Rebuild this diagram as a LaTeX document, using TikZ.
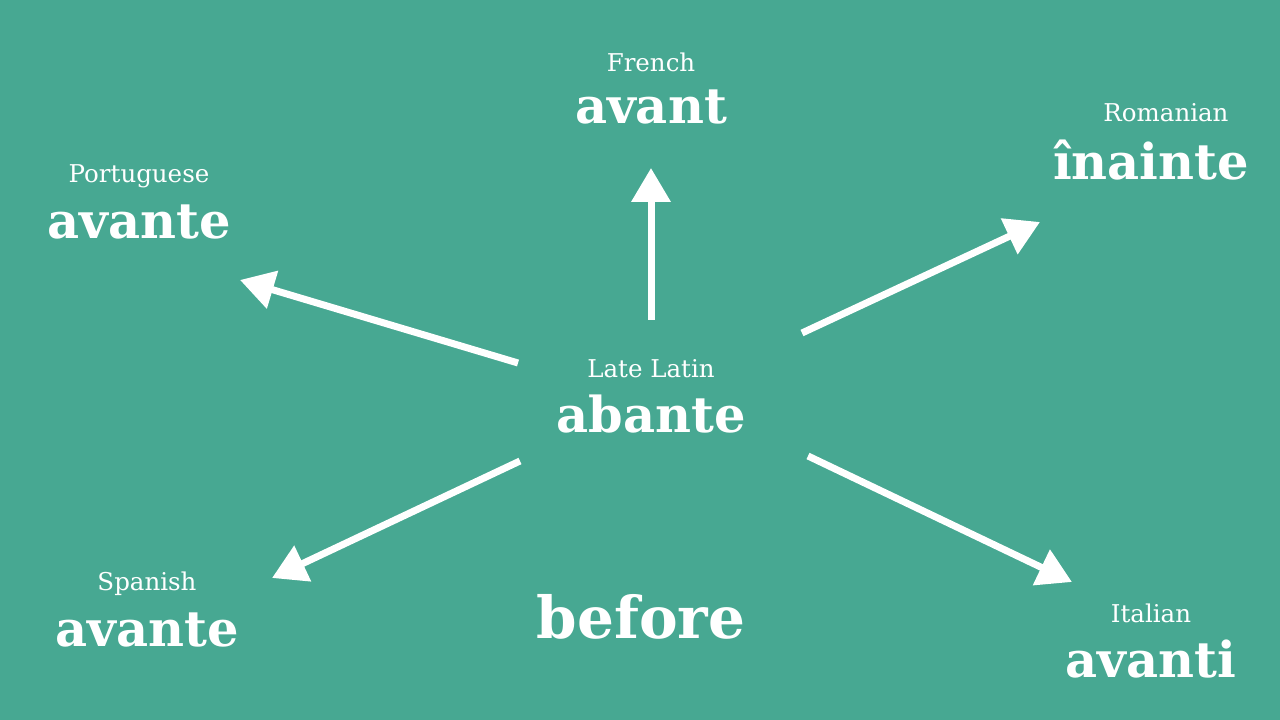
\documentclass[tikz,border=0pt]{standalone}
\usepackage{fontspec}
\setmainfont{DejaVu Serif}
\usetikzlibrary{arrows.meta}
\definecolor{bg}{HTML}{47A892}
\tikzset{
  lang/.style={text=white,font=\fontsize{24.5}{28}\selectfont,inner sep=0pt},
  word/.style={text=white,font=\fontsize{49.5}{56}\bfseries\selectfont,inner sep=0pt},
  chalk/.style={white,line width=7pt,-{Triangle[length=34pt,width=38pt]}}
}
\begin{document}
\begin{tikzpicture}[x=1pt,y=1pt]
\fill[bg] (0,0) rectangle (1280,720);
\useasboundingbox (0,0) rectangle (1280,720);
% labels
\node[lang] (lfr) at (651,658) {French};
\node[word] (wfr) at (651,613) {avant};
\node[lang] (lro) at (1166,607) {Romanian};
\node[word] (wro) at (1151,560) {înainte};
\node[lang] (lpt) at (139,544) {Portuguese};
\node[word] (wpt) at (139,498) {avante};
\node[lang] (lla) at (651,351) {Late Latin};
\node[word] (wla) at (651,306) {abante};
\node[lang] (les) at (147,136) {Spanish};
\node[word] (wes) at (147,90) {avante};
\node[word,font=\fontsize{58}{66}\bfseries\selectfont] (wen) at (641,103) {before};
\node[lang] (lit) at (1151,107) {Italian};
\node[word] (wit) at (1151,61) {avanti};
% arrow anchors
\coordinate (s1) at (651,400); \coordinate (e1) at (651,552);
\coordinate (s2) at (802,387); \coordinate (e2) at (1040,498);
\coordinate (s3) at (518,357); \coordinate (e3) at (240,440);
\coordinate (s4) at (520,259); \coordinate (e4) at (272,142);
\coordinate (s5) at (808,264); \coordinate (e5) at (1072,138);
\draw[chalk] (s1) -- (e1);
\draw[chalk] (s2) -- (e2);
\draw[chalk] (s3) -- (e3);
\draw[chalk] (s4) -- (e4);
\draw[chalk] (s5) -- (e5);
\end{tikzpicture}
\end{document}
